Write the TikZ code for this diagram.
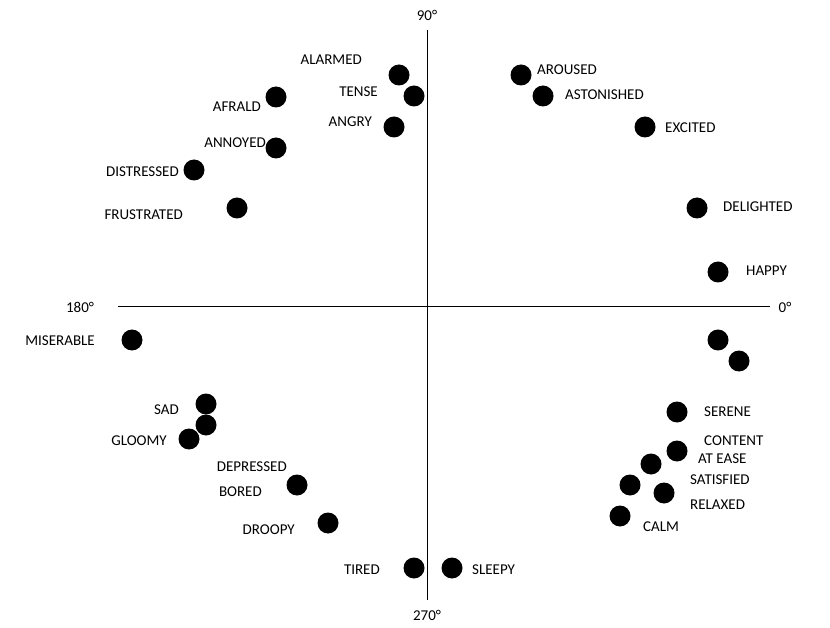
\documentclass[tikz,border=0pt]{standalone}
\usepackage{fontspec}
\setmainfont{Carlito}
\begin{document}
\begin{tikzpicture}[x=1pt,y=-1pt,
  dot/.style={circle,fill=black,inner sep=0pt,minimum size=21pt},
  lab/.style={font=\fontsize{15}{18}\selectfont,inner sep=0pt},
  ll/.style={lab,anchor=east},
  rl/.style={lab,anchor=west}]
\useasboundingbox (0,0) rectangle (830,628);
\coordinate (vt) at (427,30); \coordinate (vb) at (427,600);
\coordinate (hl) at (118,307); \coordinate (hr) at (770,307);
\draw[line width=1pt] (vt) -- (vb);
\draw[line width=1pt] (hl) -- (hr);
\node[lab] (a90) at (427,15) {90°};
\node[lab] (a270) at (427,615) {270°};
\node[lab] (a180) at (80,307) {180°};
\node[lab] (a0) at (785,307) {0°};
% dots
\foreach \n/\x/\y in {alarmed/399/75, tense/414/96, afrald/276/97, angry/394/127,
  annoyed/276/148, distressed/194/170, frustrated/237/208, aroused/521/75,
  astonished/543/96, excited/645/127, delighted/697/208, happy/718/272,
  miserable/132/340, u1/718/340, u2/739/361, sad/206/404, sad2/206/425,
  gloomy/189/439, bored/297/485, droopy/328/523, tired/414/568, sleepy/452/568,
  serene/677/412, content/677/451, atease/651/464, satisfied/630/485,
  relaxed/664/493, calm/620/516}
  \node[dot] (d\n) at (\x,\y) {};
% labels
\node[ll] (lalarmed) at (362,60) {ALARMED};
\node[ll] (ltense) at (378,92) {TENSE};
\node[ll] (lafrald) at (261,107) {AFRALD};
\node[ll] (langry) at (372,122) {ANGRY};
\node[ll] (lannoyed) at (266,143) {ANNOYED};
\node[ll] (ldistressed) at (179,172) {DISTRESSED};
\node[ll] (lfrustrated) at (183,215) {FRUSTRATED};
\node[rl] (laroused) at (537,70) {AROUSED};
\node[rl] (lastonished) at (565,95) {ASTONISHED};
\node[rl] (lexcited) at (665,128) {EXCITED};
\node[rl] (ldelighted) at (723,207) {DELIGHTED};
\node[rl] (lhappy) at (746,271) {HAPPY};
\node[ll] (lmiserable) at (95,341) {MISERABLE};
\node[ll] (lsad) at (179,410) {SAD};
\node[ll] (lgloomy) at (167,441) {GLOOMY};
\node[ll] (ldepressed) at (287,467) {DEPRESSED};
\node[ll] (lbored) at (262,492) {BORED};
\node[ll] (ldroopy) at (295,530) {DROOPY};
\node[ll] (ltired) at (380,570) {TIRED};
\node[rl] (lsleepy) at (472,570) {SLEEPY};
\node[rl] (lserene) at (704,412) {SERENE};
\node[rl] (lcontent) at (704,441) {CONTENT};
\node[rl] (latease) at (698,459) {AT EASE};
\node[rl] (lsatisfied) at (690,480) {SATISFIED};
\node[rl] (lrelaxed) at (690,505) {RELAXED};
\node[rl] (lcalm) at (643,527) {CALM};
\end{tikzpicture}
\end{document}
